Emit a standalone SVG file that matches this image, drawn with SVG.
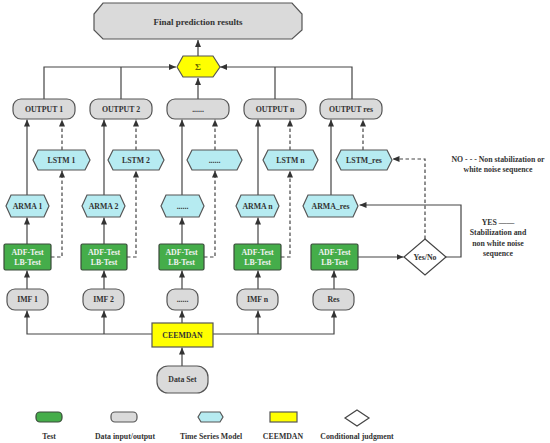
<svg xmlns="http://www.w3.org/2000/svg" width="550" height="443" viewBox="0 0 550 443">
<defs>
<marker id="ah" markerWidth="7" markerHeight="6" refX="7" refY="3" orient="auto" markerUnits="userSpaceOnUse"><path d="M0,0 L7,3 L0,6 z" fill="#333"/></marker>
<style>
.gray{fill:#dadada;stroke:#555;stroke-width:1.2}
.green{fill:#45ad4a;stroke:#3a4a3a;stroke-width:1.2}
.cyan{fill:#b6ebf1;stroke:#555;stroke-width:1.2}
.yellow{fill:#ffff00;stroke:#555;stroke-width:1.2}
.t{font-family:"Liberation Serif",serif;font-weight:bold;font-size:7.8px;fill:#333;text-anchor:middle;dominant-baseline:central}
.tw{fill:#f2f2f2}
.ln{fill:none;stroke:#444;stroke-width:1.2}
.da{stroke-dasharray:3.5,2.5}
.ar{marker-end:url(#ah)}
</style>
</defs>
<rect width="550" height="443" fill="#fff"/>
<g id="connectors">
<path class="ln ar" d="M198,56 L198,40"/>
<path class="ln ar" d="M44,99 L44,67 L176,67"/>
<path class="ln" d="M121,99 L121,67"/>
<path class="ln ar" d="M198,99 L198,78"/>
<path class="ln ar" d="M352,99 L352,67 L220,67"/>
<path class="ln" d="M275,99 L275,67"/>
<path class="ln ar" d="M27,195 L27,119.5"/>
<path class="ln ar" d="M104,195 L104,119.5"/>
<path class="ln ar" d="M182,195 L182,119.5"/>
<path class="ln ar" d="M258,195 L258,119.5"/>
<path class="ln ar" d="M331,195 L331,119.5"/>
<path class="ln da ar" d="M62,150 L62,119.5"/>
<path class="ln da ar" d="M136,150 L136,119.5"/>
<path class="ln da ar" d="M215,150 L215,119.5"/>
<path class="ln da ar" d="M290,150 L290,119.5"/>
<path class="ln da ar" d="M363,150 L363,119.5"/>
<path class="ln ar" d="M27,244 L27,217.5"/>
<path class="ln ar" d="M104,244 L104,217.5"/>
<path class="ln ar" d="M182,244 L182,217.5"/>
<path class="ln ar" d="M258,244 L258,217.5"/>
<path class="ln da ar" d="M51,257 L62,257 L62,170.5"/>
<path class="ln da ar" d="M127,257 L136,257 L136,170.5"/>
<path class="ln da ar" d="M204,257 L215,257 L215,170.5"/>
<path class="ln da ar" d="M281,257 L290,257 L290,170.5"/>
<path class="ln ar" d="M27,289 L27,270.5"/>
<path class="ln ar" d="M104,289 L104,270.5"/>
<path class="ln ar" d="M182,289 L182,270.5"/>
<path class="ln ar" d="M258,289 L258,270.5"/>
<path class="ln ar" d="M334,289 L334,270.5"/>
<path class="ln ar" d="M152,334 L27,334 L27,310.5"/>
<path class="ln ar" d="M104,334 L104,310.5"/>
<path class="ln ar" d="M213,334 L334,334 L334,310.5"/>
<path class="ln ar" d="M258,334 L258,310.5"/>
<path class="ln ar" d="M182,323 L182,310.5"/>
<path class="ln ar" d="M182,366 L182,347.5"/>
<path class="ln ar" d="M358,257 L403.5,257"/>
<path class="ln ar" d="M446,257 L461,257 L461,205 L359.5,205"/>
<path class="ln da ar" d="M425,239 L425,159 L392.5,159"/>
</g>
<g id="final"><path class="gray" d="M103,3 L292,3 L302,14 L302,30 L292,39 L103,39 L94,30 L94,14 Z"/><text class="t" x="198" y="22" style="font-size:9px">Final prediction results</text></g>
<g id="sigma"><path class="yellow" d="M177,67 L183,56 L213,56 L220,67 L213,77 L183,77 Z"/><text class="t" x="198" y="66.5" style="font-size:9px;fill:#666600">Σ</text></g>
<g id="out1"><rect class="gray" x="13" y="99" width="62" height="20" rx="8"/><text class="t" x="44" y="109">OUTPUT 1</text></g>
<g id="out2"><rect class="gray" x="90" y="99" width="62" height="20" rx="8"/><text class="t" x="121" y="109">OUTPUT 2</text></g>
<g id="out3"><rect class="gray" x="167" y="99" width="62" height="20" rx="8"/><text class="t" x="198" y="109">......</text></g>
<g id="outn"><rect class="gray" x="244" y="99" width="62" height="20" rx="8"/><text class="t" x="275" y="109">OUTPUT n</text></g>
<g id="outres"><rect class="gray" x="320" y="99" width="62" height="20" rx="8"/><text class="t" x="351" y="109">OUTPUT res</text></g>
<g id="lstm1"><path class="cyan" d="M33,160 L38,150 L85,150 L90,160 L85,170 L38,170 Z"/><text class="t" x="61.5" y="160">LSTM 1</text></g>
<g id="lstm2"><path class="cyan" d="M108,160 L113,150 L159,150 L164,160 L159,170 L113,170 Z"/><text class="t" x="136" y="160">LSTM 2</text></g>
<g id="lstm3"><path class="cyan" d="M187,160 L192,150 L237,150 L242,160 L237,170 L192,170 Z"/><text class="t" x="214.5" y="160">......</text></g>
<g id="lstmn"><path class="cyan" d="M263,160 L268,150 L313,150 L318,160 L313,170 L268,170 Z"/><text class="t" x="290.5" y="160">LSTM n</text></g>
<g id="lstmres"><path class="cyan" d="M336,160 L341,150 L387,150 L392,160 L387,170 L341,170 Z"/><text class="t" x="364" y="160">LSTM_res</text></g>
<g id="arma1"><path class="cyan" d="M6,206 L11,195 L44,195 L49,206 L44,217 L11,217 Z"/><text class="t" x="27.5" y="206">ARMA 1</text></g>
<g id="arma2"><path class="cyan" d="M82,206 L87,195 L120,195 L125,206 L120,217 L87,217 Z"/><text class="t" x="103.5" y="206">ARMA 2</text></g>
<g id="arma3"><path class="cyan" d="M161,206 L166,195 L199,195 L204,206 L199,217 L166,217 Z"/><text class="t" x="182.5" y="206">......</text></g>
<g id="arman"><path class="cyan" d="M236,206 L241,195 L274,195 L279,206 L274,217 L241,217 Z"/><text class="t" x="257.5" y="206">ARMA n</text></g>
<g id="armares"><path class="cyan" d="M303,206 L308,195 L353,195 L358,206 L353,217 L308,217 Z"/><text class="t" x="330.5" y="206">ARMA_res</text></g>
<g id="adf1"><rect class="green" x="4" y="244" width="47" height="26" rx="1.5"/><text class="t tw" x="27.5" y="252">ADF-Test</text><text class="t tw" x="27.5" y="262.5">LB-Test</text></g>
<g id="adf2"><rect class="green" x="81" y="244" width="46" height="26" rx="1.5"/><text class="t tw" x="104" y="252">ADF-Test</text><text class="t tw" x="104" y="262.5">LB-Test</text></g>
<g id="adf3"><rect class="green" x="159" y="244" width="45" height="26" rx="1.5"/><text class="t tw" x="181.5" y="252">ADF-Test</text><text class="t tw" x="181.5" y="262.5">LB-Test</text></g>
<g id="adfn"><rect class="green" x="234" y="244" width="47" height="26" rx="1.5"/><text class="t tw" x="257.5" y="252">ADF-Test</text><text class="t tw" x="257.5" y="262.5">LB-Test</text></g>
<g id="adfres"><rect class="green" x="311" y="244" width="47" height="26" rx="1.5"/><text class="t tw" x="334.5" y="252">ADF-Test</text><text class="t tw" x="334.5" y="262.5">LB-Test</text></g>
<g id="imf1"><rect class="gray" x="7" y="289" width="41" height="21" rx="8"/><text class="t" x="27.5" y="299.5">IMF 1</text></g>
<g id="imf2"><rect class="gray" x="83" y="289" width="41" height="21" rx="8"/><text class="t" x="103.5" y="299.5">IMF 2</text></g>
<g id="imf3"><rect class="gray" x="167" y="289" width="31" height="21" rx="8"/><text class="t" x="182.5" y="299.5">......</text></g>
<g id="imfn"><rect class="gray" x="237" y="289" width="41" height="21" rx="8"/><text class="t" x="257.5" y="299.5">IMF n</text></g>
<g id="res"><rect class="gray" x="313" y="289" width="41" height="21" rx="8"/><text class="t" x="333.5" y="299.5">Res</text></g>
<g id="ceemdan"><rect class="yellow" x="152" y="323" width="61" height="24"/><text class="t" x="182.5" y="335">CEEMDAN</text></g>
<g id="dataset"><rect class="gray" x="157" y="366" width="51" height="27" rx="11"/><text class="t" x="182.5" y="379.5">Data Set</text></g>
<g id="yesno"><path d="M425,239 L446,257 L425,275 L404,257 Z" fill="#fff" stroke="#444" stroke-width="1.2"/><text class="t" x="425" y="257">Yes/No</text></g>
<g id="notes">
<text class="t" x="498" y="159">NO - - - Non stabilization or</text>
<text class="t" x="498" y="169">white noise sequence</text>
<text class="t" x="498" y="222">YES ——</text>
<text class="t" x="498" y="232">Stabilization and</text>
<text class="t" x="498" y="243">non white noise</text>
<text class="t" x="498" y="253">sequence</text>
</g>
<g id="legend">
<rect class="green" x="36" y="412" width="26" height="10" rx="4"/>
<rect class="gray" x="111" y="412" width="26" height="10" rx="4"/>
<path class="cyan" d="M198,417 L201,412 L220,412 L223,417 L220,422 L201,422 Z"/>
<rect class="yellow" x="270" y="412" width="27" height="10"/>
<path d="M357,410 L369,418 L357,426 L345,418 Z" fill="#fff" stroke="#444" stroke-width="1.2"/>
<text class="t" x="49" y="436">Test</text>
<text class="t" x="125" y="436">Data input/output</text>
<text class="t" x="211" y="436">Time Series Model</text>
<text class="t" x="283" y="436">CEEMDAN</text>
<text class="t" x="357" y="436">Conditional judgment</text>
</g>
</svg>
